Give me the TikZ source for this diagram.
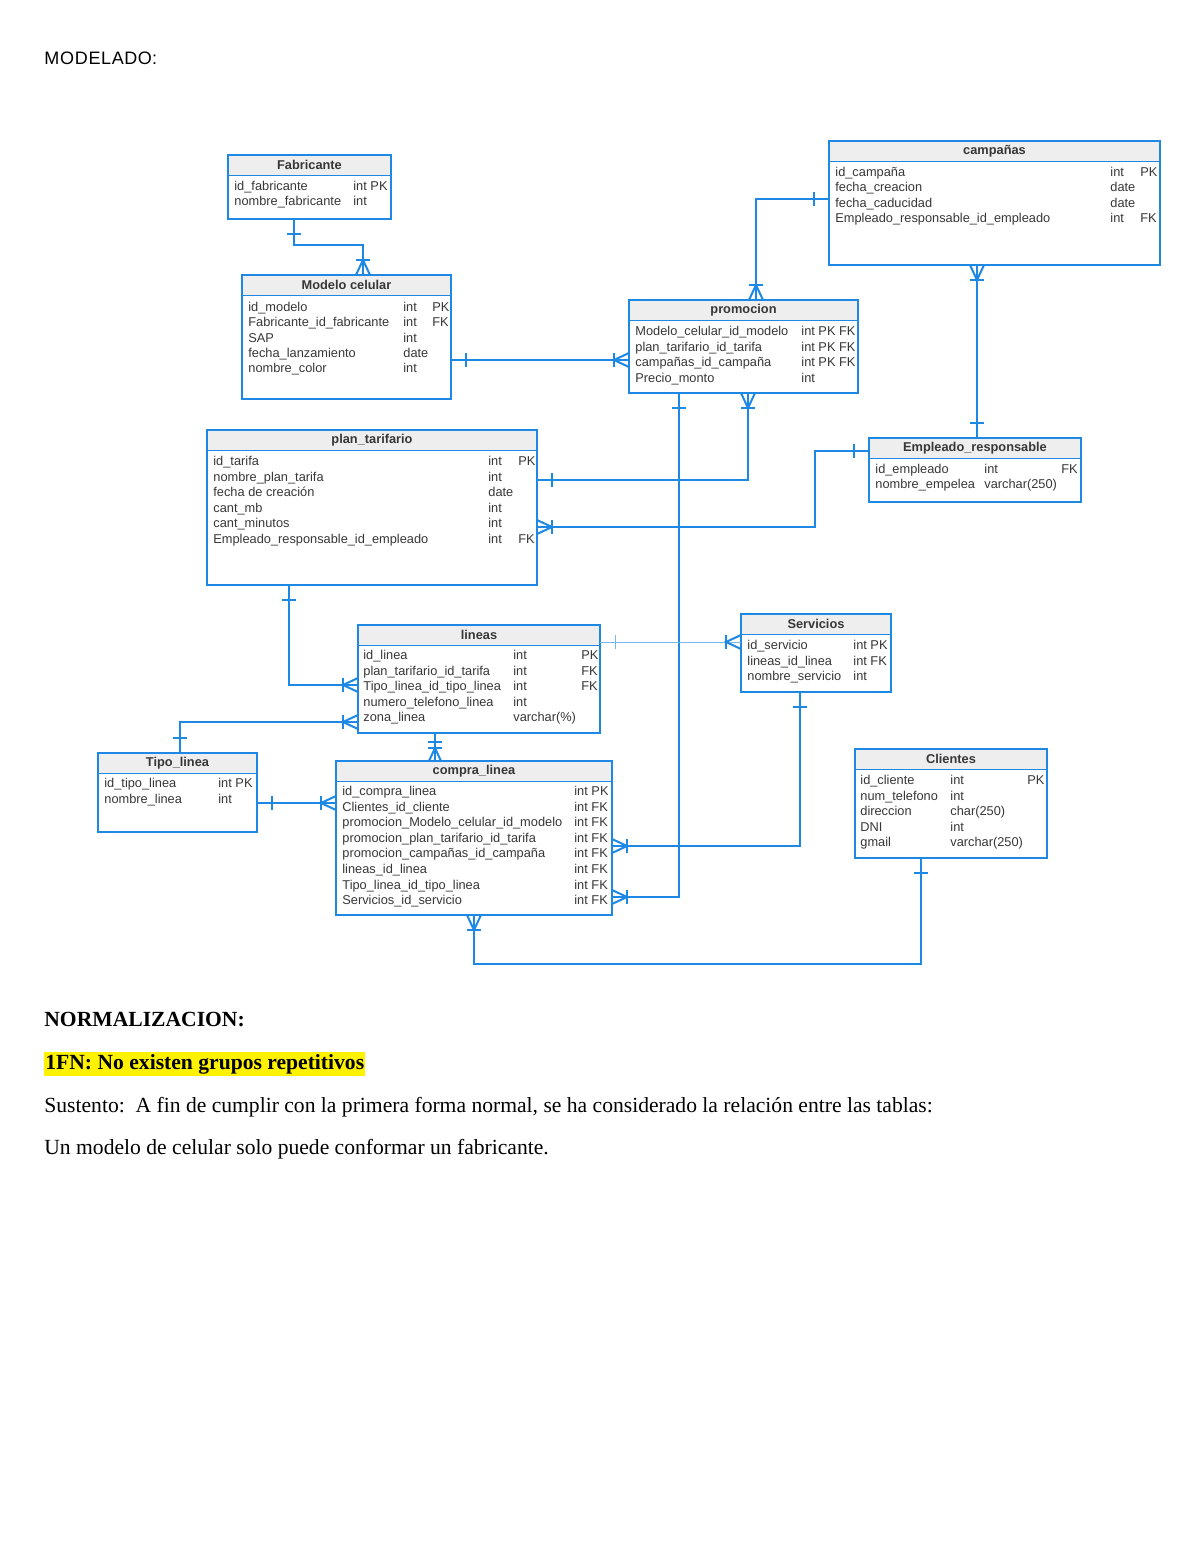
\documentclass[tikz,border=0pt]{standalone}
\usepackage{fontspec}
\setmainfont{Liberation Serif}
\newfontfamily\erfont{Liberation Sans}
\usetikzlibrary{calc}
\definecolor{erblue}{RGB}{30,136,229}
\definecolor{hdrgray}{RGB}{238,238,238}
\definecolor{txtgray}{RGB}{55,55,55}
\tikzset{
  tbox/.style={draw=erblue, line width=1pt, inner sep=0pt, outer sep=0pt, anchor=north west, fill=white},
  ttl/.style={font=\erfont\bfseries\fontsize{6.4}{7.7}\selectfont, text=txtgray, inner sep=0pt},
  rowt/.style={font=\erfont\fontsize{6.4}{7.7}\selectfont, text=txtgray, inner sep=0pt, anchor=mid west},
  conn/.style={draw=erblue, line width=1pt},
  thinconn/.style={draw=erblue!60, line width=0.5pt},
  bodytxt/.style={font=\fontsize{10.8}{13}\selectfont, anchor=base west, inner sep=0pt},
}
\newcommand\ertable[6]{%
  \node[tbox, minimum width={#4*0.5pt}, minimum height={#5*0.5pt}] (#1) at (#2,#3) {};
  \fill[hdrgray] ($(#1.north west)+(1,1)$) rectangle ($(#1.north east)+(-1,20)$);
  \draw[erblue, line width=0.5pt] ($(#1.north west)+(0,20)$) -- ($(#1.north east)+(0,20)$);
  \node[ttl] (#1-title) at ($(#1.north)+(0,10)$) {#6};
}
\newcommand\ercol[5]{%
  \foreach \t [count=\i] in {#5} {\node[rowt] (#1\i) at (#2,{#3+(\i-1)*#4}) {\t};}
}
\newcommand\onebar[4][conn]{\draw[#1] ($#2+15*(#3)+7*(#4)$) -- ($#2+15*(#3)-7*(#4)$);}
\newcommand\crowfoot[3]{%
  \draw[conn] ($#1+7*(#3)$) -- ($#1+15*(#2)$) -- ($#1-7*(#3)$);
  \draw[conn] ($#1+15*(#2)+7*(#3)$) -- ($#1+15*(#2)-7*(#3)$);
}
\begin{document}
\begin{tikzpicture}[x=0.5pt, y=-0.5pt]
\useasboundingbox[fill=white] (0,0) rectangle (1200,1553);

\node[anchor=base west, inner sep=0pt, font=\erfont\fontsize{9}{11}\selectfont] (modelado) at (44,64) {M\kern0.4pt O\kern0.4pt D\kern0.3pt E\kern0.3pt L\kern0.3pt A\kern0.3pt D\kern0.3pt O:};

% ---------- tables ----------
\ertable{fab}{228}{155}{163}{64}{Fabricante}
\ercol{fabA}{234}{186}{15.4}{id\_fabricante, nombre\_fabricante}
\ercol{fabB}{353}{186}{15.4}{int PK, int}

\ertable{mod}{242}{275}{209}{124}{Modelo celular}
\ercol{modA}{248}{307}{15.3}{id\_modelo, Fabricante\_id\_fabricante, SAP, fecha\_lanzamiento, nombre\_color}
\ercol{modB}{403}{307}{15.3}{int, int, int, date, int}
\ercol{modC}{432}{307}{15.3}{PK, FK}

\ertable{cam}{829}{141}{331}{124}{campañas}
\ercol{camA}{835}{172}{15.4}{id\_campaña, fecha\_creacion, fecha\_caducidad, Empleado\_responsable\_id\_empleado}
\ercol{camB}{1110}{172}{15.4}{int, date, date, int}
\ercol{camC}{1140}{172}{46.2}{PK, FK}

\ertable{pro}{629}{300}{229}{93}{promocion}
\ercol{proA}{635}{331}{15.6}{Modelo\_celular\_id\_modelo, plan\_tarifario\_id\_tarifa, campañas\_id\_campaña, Precio\_monto}
\ercol{proB}{801}{331}{15.6}{int PK FK, int PK FK, int PK FK, int}

\ertable{pla}{207}{430}{330}{155}{plan\_tarifario}
\ercol{plaA}{213}{461}{15.6}{id\_tarifa, nombre\_plan\_tarifa, fecha de creación, cant\_mb, cant\_minutos, Empleado\_responsable\_id\_empleado}
\ercol{plaB}{488}{461}{15.6}{int, int, date, int, int, int}
\ercol{plaC}{518}{461}{78}{PK, FK}

\ertable{emp}{869}{438}{212}{64}{Empleado\_responsable}
\ercol{empA}{875}{469}{15.4}{id\_empleado, nombre\_empelea}
\ercol{empB}{984}{469}{15.4}{int, varchar(250)}
\ercol{empC}{1061}{469}{15.4}{FK}

\ertable{lin}{358}{625}{242}{108}{lineas}
\ercol{linA}{363}{655}{15.5}{id\_linea, plan\_tarifario\_id\_tarifa, Tipo\_linea\_id\_tipo\_linea, numero\_telefono\_linea, zona\_linea}
\ercol{linB}{513}{655}{15.5}{int, int, int, int, varchar(\%)}
\ercol{linC}{581}{655}{15.5}{PK, FK, FK}

\ertable{ser}{741}{614}{150}{78}{Servicios}
\ercol{serA}{747}{645}{15.5}{id\_servicio, lineas\_id\_linea, nombre\_servicio}
\ercol{serB}{853}{645}{15.5}{int PK, int FK, int}

\ertable{tip}{98}{753}{159}{79}{Tipo\_linea}
\ercol{tipA}{104}{783}{15.4}{id\_tipo\_linea, nombre\_linea}
\ercol{tipB}{218}{783}{15.4}{int PK, int}

\ertable{com}{336}{761}{276}{154}{compra\_linea}
\ercol{comA}{342}{791}{15.57}{id\_compra\_linea, Clientes\_id\_cliente, promocion\_Modelo\_celular\_id\_modelo, promocion\_plan\_tarifario\_id\_tarifa, promocion\_campañas\_id\_campaña, lineas\_id\_linea, Tipo\_linea\_id\_tipo\_linea, Servicios\_id\_servicio}
\ercol{comB}{574}{791}{15.57}{int PK, int FK, int FK, int FK, int FK, int FK, int FK, int FK}

\ertable{cli}{855}{749}{192}{109}{Clientes}
\ercol{cliA}{860}{780}{15.5}{id\_cliente, num\_telefono, direccion, DNI, gmail}
\ercol{cliB}{950}{780}{15.5}{int, int, char(250), int, varchar(250)}
\ercol{cliC}{1027}{780}{15.5}{PK}

% ---------- connector end points ----------
\coordinate (c1a) at ($(fab.south west)+(66,0)$);
\coordinate (c1b) at ($(mod.north west)+(121,0)$);
\coordinate (c2a) at ($(mod.north east)+(0,85)$);
\coordinate (c2b) at ($(pro.north west)+(0,60)$);
\coordinate (c3a) at ($(cam.north west)+(0,58)$);
\coordinate (c3b) at ($(pro.north west)+(127,0)$);
\coordinate (c4a) at ($(cam.south west)+(148,0)$);
\coordinate (c4b) at ($(emp.north west)+(108,0)$);
\coordinate (c5a) at ($(pro.south west)+(119,0)$);
\coordinate (c5b) at ($(pla.north east)+(0,50)$);
\coordinate (c6a) at ($(emp.north west)+(0,13)$);
\coordinate (c6b) at ($(pla.north east)+(0,97)$);
\coordinate (c7a) at ($(pro.south west)+(50,0)$);
\coordinate (c7b) at ($(com.north east)+(0,136)$);
\coordinate (c8a) at ($(pla.south west)+(82,0)$);
\coordinate (c8b) at ($(lin.north west)+(0,60)$);
\coordinate (c9a) at ($(lin.north east)+(0,17)$);
\coordinate (c9b) at ($(ser.north west)+(0,28)$);
\coordinate (c10a) at ($(tip.north west)+(82,0)$);
\coordinate (c10b) at ($(lin.north west)+(0,97)$);
\coordinate (c11a) at ($(lin.south west)+(77,0)$);
\coordinate (c11b) at ($(com.north west)+(99,0)$);
\coordinate (c12a) at ($(tip.north east)+(0,50)$);
\coordinate (c12b) at ($(com.north west)+(0,42)$);
\coordinate (c13a) at ($(ser.south west)+(59,0)$);
\coordinate (c13b) at ($(com.north east)+(0,85)$);
\coordinate (c14a) at ($(cli.south west)+(66,0)$);
\coordinate (c14b) at ($(com.south west)+(138,0)$);

% ---------- connectors ----------
\draw[conn] (c1a) -- ++(0,26) -| (c1b);
\onebar{(c1a)}{0,1}{1,0}
\crowfoot{(c1b)}{0,-1}{1,0}

\draw[conn] (c2a) -- (c2b);
\onebar{(c2a)}{1,0}{0,1}
\crowfoot{(c2b)}{-1,0}{0,1}

\draw[conn] (c3a) -| (c3b);
\onebar{(c3a)}{-1,0}{0,1}
\crowfoot{(c3b)}{0,-1}{1,0}

\draw[conn] (c4a) -- (c4b);
\crowfoot{(c4a)}{0,1}{1,0}
\onebar{(c4b)}{0,-1}{1,0}

\draw[conn] (c5a) |- (c5b);
\crowfoot{(c5a)}{0,1}{1,0}
\onebar{(c5b)}{1,0}{0,1}

\draw[conn] (c6a) -- ++(-54,0) |- (c6b);
\onebar{(c6a)}{-1,0}{0,1}
\crowfoot{(c6b)}{1,0}{0,1}

\draw[conn] (c7a) |- (c7b);
\onebar{(c7a)}{0,1}{1,0}
\crowfoot{(c7b)}{1,0}{0,1}

\draw[conn] (c8a) |- (c8b);
\onebar{(c8a)}{0,1}{1,0}
\crowfoot{(c8b)}{-1,0}{0,1}

\draw[thinconn] (c9a) -- (c9b);
\onebar[thinconn]{(c9a)}{1,0}{0,1}
\crowfoot{(c9b)}{-1,0}{0,1}

\draw[conn] (c10a) |- (c10b);
\onebar{(c10a)}{0,-1}{1,0}
\crowfoot{(c10b)}{-1,0}{0,1}

\draw[conn] (c11a) -- (c11b);
\draw[conn] ($(c11a)+(-7,9)$) -- ($(c11a)+(7,9)$);
\draw[conn] ($(c11b)+(-6,0)$) -- ($(c11b)+(0,-13)$) -- ($(c11b)+(6,0)$);
\draw[conn] ($(c11b)+(-7,-13)$) -- ($(c11b)+(7,-13)$);

\draw[conn] (c12a) -- (c12b);
\onebar{(c12a)}{1,0}{0,1}
\crowfoot{(c12b)}{-1,0}{0,1}

\draw[conn] (c13a) |- (c13b);
\onebar{(c13a)}{0,1}{1,0}
\crowfoot{(c13b)}{1,0}{0,1}

\draw[conn] (c14a) -- ++(0,106) -| (c14b);
\onebar{(c14a)}{0,1}{1,0}
\crowfoot{(c14b)}{0,1}{1,0}

% ---------- text below ----------
\node[bodytxt, font=\bfseries\fontsize{10.8}{13}\selectfont] (norm) at (44,1026) {NORMALIZACION:};
\node[bodytxt, font=\bfseries\fontsize{10.8}{13}\selectfont, fill=yellow, inner xsep=0.5pt, inner ysep=1.2pt] (fn1) at (44,1069) {1FN: No existen grupos repetitivos};
\node[bodytxt] (sus) at (44,1112) {Sustento:\ \ A fin de cumplir con la primera forma normal, se ha considerado la relación entre las tablas:};
\node[bodytxt] (unm) at (44,1154) {Un modelo de celular solo puede conformar un fabricante.};
\end{tikzpicture}
\end{document}
